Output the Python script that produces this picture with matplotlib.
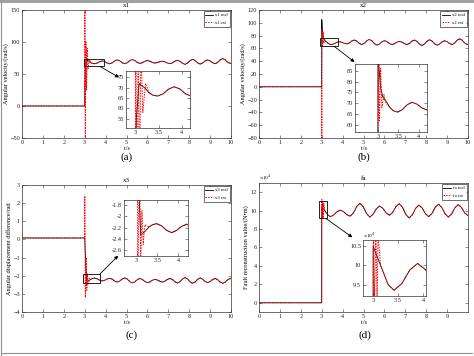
import numpy as np
import matplotlib
matplotlib.use('Agg')
import matplotlib.pyplot as plt
from matplotlib.patches import Rectangle

plt.rcParams['font.family'] = ['Liberation Serif', 'DejaVu Serif']
plt.rcParams['mathtext.fontset'] = 'stix'

# ---- data ----
# time grid of the steady oscillation of x1, x2, x3 (s)
t_ss = np.linspace(3.48, 10.32, 58)
# fa oscillates a bit slower, own grid
t_fa = np.linspace(3.42, 10.0, 43)

x1_ss = [66, 67.1, 69.4, 70.5, 69.4, 67.1, 66, 67.5, 70.5, 72, 70.5, 67.5, 66, 67.6, 70.9,
         72.5, 71, 68, 66.5, 67.6, 69.9, 71, 70, 68, 67, 67.8, 69.2, 70, 69, 67, 66, 67.4,
         70.1, 71.5, 69.9, 66.6, 65, 67, 71, 73, 71.1, 67.4, 65.5, 67.1, 70.4, 72, 70.5,
         67.5, 66, 68, 72, 74, 72.1, 68.4, 66.5, 67.9, 70.6, 72]
x2_ss = [66, 67.1, 69.4, 70.5, 69.6, 67.9, 67, 68.5, 71.5, 73, 71.2, 67.8, 66, 68, 72, 74,
         71.8, 67.3, 65, 66.8, 70.3, 72, 70.5, 67.5, 66, 67.3, 69.8, 71, 69.8, 67.3, 66,
         67.8, 71.3, 73, 70.9, 66.6, 64.5, 66.8, 71.3, 73.5, 71.4, 67.1, 65, 66.8, 70.3, 72,
         70.5, 67.5, 66, 68.3, 72.8, 75, 72.8, 68.3, 66, 67.3, 69.8, 71]
x3_ss = [-2.13, -2.17, -2.25, -2.29, -2.25, -2.18, -2.14, -2.19, -2.30, -2.35, -2.29, -2.18,
         -2.12, -2.19, -2.33, -2.4, -2.34, -2.21, -2.15, -2.21, -2.32, -2.38, -2.34, -2.25,
         -2.2, -2.24, -2.31, -2.35, -2.30, -2.2, -2.15, -2.21, -2.34, -2.4, -2.33, -2.18,
         -2.1, -2.18, -2.34, -2.42, -2.35, -2.2, -2.12, -2.19, -2.32, -2.38, -2.32, -2.21,
         -2.15, -2.22, -2.35, -2.42, -2.35, -2.22, -2.15, -2.2, -2.3, -2.35]
# fault value in units of 1e4 N*m
fa_ss = [9.35, 9.53, 9.88, 10.05, 9.89, 9.56, 9.4, 9.75, 10.45, 10.8, 10.43, 9.68, 9.3, 9.6,
         10.2, 10.5, 10.25, 9.75, 9.5, 9.81, 10.44, 10.75, 10.36, 9.59, 9.2, 9.55, 10.25,
         10.6, 10.29, 9.66, 9.35, 9.69, 10.36, 10.7, 10.35, 9.65, 9.3, 9.64, 10.31, 10.65,
         10.35, 9.75, 9.45]

# start-up part (before the steady grid)
x1_real_t = [0, 3.0, 3.02, 3.08, 3.2, 3.3, 3.38]
x1_real_v = [0, 0, 55, 72, 70, 67.5, 66.4]
x1_est_t = [0, 3.0, 3.008, 3.03, 3.06, 3.09, 3.12, 3.16, 3.22, 3.3, 3.38]
x1_est_v = [0, 0, 158, -55, 100, 25, 90, 58, 72, 67.5, 66.4]

x2_real_t = [0, 3.0, 3.004, 3.03, 3.07, 3.12, 3.2, 3.3, 3.38]
x2_real_v = [0, 0, 105, 86, 77, 73, 71, 68, 66.6]
x2_est_t = [0, 3.0, 3.005, 3.015, 3.04, 3.07, 3.1, 3.15, 3.2, 3.3, 3.38]
x2_est_v = [0, 0, -80, 88, 62, 86, 68, 74, 70, 68, 66.6]

x3_real_t = [0, 3.0, 3.06, 3.1, 3.2, 3.3, 3.38]
x3_real_v = [0.08, 0.08, -1.6, -2.33, -2.27, -2.19, -2.15]
x3_est_t = [0, 3.0, 3.005, 3.03, 3.07, 3.1, 3.13, 3.16, 3.2, 3.3, 3.38]
x3_est_v = [0.08, 0.08, 2.4, -3.2, -1.0, -2.8, -1.9, -2.5, -2.15, -2.19, -2.15]

fa_real_t = [0, 3.0, 3.001, 3.15, 3.3]
fa_real_v = [0, 0, 10.5, 10.0, 9.5]
fa_est_t = [0, 3.0, 3.005, 3.03, 3.055, 3.08, 3.1, 3.15, 3.3]
fa_est_v = [0, 0, 11.2, 9.1, 10.9, 9.2, 10.8, 10.0, 9.5]

panels = [
    dict(name='x1', tag='(a)', ylabel='Angular velocity/(rad/s)',
         rt=x1_real_t, rv=x1_real_v, et=x1_est_t, ev=x1_est_v, st=t_ss, ss=x1_ss,
         ylim=(-50, 150), yticks=[-50, 0, 50, 100, 150], xticks=range(11),
         box=(2.98, 62, 3.9, 74),
         ins_xlim=(2.8, 4.18), ins_ylim=(50.5, 78), ins_yticks=[55, 60, 65, 70, 75],
         arrow_from=(3.72, 62), arrow_to=(-0.11, 0.89)),
    dict(name='x2', tag='(b)', ylabel='Angular velocity/(rad/s)',
         rt=x2_real_t, rv=x2_real_v, et=x2_est_t, ev=x2_est_v, st=t_ss, ss=x2_ss,
         ylim=(-80, 120), yticks=range(-80, 121, 20), xticks=range(11),
         box=(2.9, 63, 3.78, 76),
         ins_xlim=(2.45, 4.2), ins_ylim=(57, 88), ins_yticks=[60, 65, 70, 75, 80, 85],
         arrow_from=(3.6, 63), arrow_to=(-0.01, 1.03)),
    dict(name='x3', tag='(c)', ylabel='Angular displacement difference/rad',
         rt=x3_real_t, rv=x3_real_v, et=x3_est_t, ev=x3_est_v, st=t_ss, ss=x3_ss,
         ylim=(-4, 3), yticks=range(-4, 4), xticks=range(11),
         box=(2.92, -2.42, 3.75, -1.92),
         ins_xlim=(2.7, 4.24), ins_ylim=(-2.7, -1.71),
         ins_yticks=[-2.6, -2.4, -2.2, -2, -1.8],
         arrow_from=(3.72, -1.92), arrow_to=(-0.09, 0.0)),
    dict(name='fa', tag='(d)', ylabel='Fault reconstruction value/(N\u2022m)',
         rt=fa_real_t, rv=fa_real_v, et=fa_est_t, ev=fa_est_v, st=t_fa, ss=fa_ss,
         ylim=(-1, 13), yticks=range(0, 13, 2), xticks=range(10),
         box=(2.89, 9.15, 3.25, 11.0),
         ins_xlim=(2.8, 4.06), ins_ylim=(9.2, 10.66), ins_yticks=[9.5, 10, 10.5],
         arrow_from=(3.2, 9.15), arrow_to=(-0.17, 1.05)),
]

# axes rectangles in figure fraction (main, inset)
main_pos = [[0.0464, 0.6124, 0.441, 0.3596], [0.5464, 0.6124, 0.441, 0.3596],
            [0.0464, 0.1236, 0.441, 0.3567], [0.5464, 0.1236, 0.441, 0.3624]]
inset_pos = [[0.266, 0.640, 0.135, 0.160], [0.7496, 0.630, 0.151, 0.190],
             [0.2616, 0.2818, 0.1357, 0.1564], [0.766, 0.1685, 0.133, 0.157]]
tag_pos = [(0.266, 0.559), (0.768, 0.559), (0.278, 0.059), (0.770, 0.059)]

fs = 4.5
spine_c = '#333333'


def style(ax, size):
    ax.tick_params(direction='in', length=2, width=0.4, labelsize=size, pad=1.5,
                   top=True, right=True, colors=spine_c, labelcolor='#222222')
    for s in ax.spines.values():
        s.set_linewidth(0.5)
        s.set_color(spine_c)


def draw_lines(ax, p):
    ax.plot(list(p['rt']) + list(p['st']), list(p['rv']) + p['ss'], color='black', lw=0.6)
    ax.plot(list(p['et']) + list(p['st']), list(p['ev']) + p['ss'], color='red', lw=0.7,
            ls=(0, (1.5, 1.2)))


fig = plt.figure(figsize=(4.74, 3.56), dpi=100)

for p, mp, ip, tp in zip(panels, main_pos, inset_pos, tag_pos):
    ax = fig.add_axes(mp)
    draw_lines(ax, p)
    ax.set_xlim(0, 10)
    ax.set_ylim(*p['ylim'])
    ax.set_xticks(list(p['xticks']))
    ax.set_yticks(list(p['yticks']))
    style(ax, fs)
    ax.set_title(p['name'], fontsize=fs + 0.5, pad=2)
    ax.set_xlabel('t/s', fontsize=fs, labelpad=1)
    ax.set_ylabel(p['ylabel'], fontsize=fs, labelpad=1)
    leg = ax.legend([p['name'] + ' real', p['name'] + ' est'], loc='upper right',
                    fontsize=3.3, frameon=True, fancybox=False, handlelength=1.7,
                    borderpad=0.4, labelspacing=0.7, handletextpad=0.4,
                    borderaxespad=0.3)
    leg.get_frame().set_edgecolor('black')
    leg.get_frame().set_linewidth(0.5)
    if p['name'] == 'fa':
        ax.text(0.0, 1.005, r'$\times10^4$', transform=ax.transAxes, fontsize=3.8,
                va='bottom', ha='left')

    # zoom box
    b = p['box']
    ax.add_patch(Rectangle((b[0], b[1]), b[2] - b[0], b[3] - b[1], fill=False,
                           ec='black', lw=0.6, zorder=5))

    # inset
    ins = fig.add_axes(ip)
    draw_lines(ins, p)
    ins.set_xlim(*p['ins_xlim'])
    ins.set_ylim(*p['ins_ylim'])
    ins.set_xticks([3, 3.5, 4])
    ins.set_yticks(p['ins_yticks'])
    ins.xaxis.set_major_formatter(plt.FormatStrFormatter('%g'))
    ins.yaxis.set_major_formatter(plt.FormatStrFormatter('%g'))
    style(ins, fs)
    if p['name'] == 'fa':
        ins.text(0.0, 1.005, r'$\times10^4$', transform=ins.transAxes, fontsize=3.8,
                 va='bottom', ha='left')

    ax.annotate('', xy=p['arrow_to'], xycoords=ins.transAxes,
                xytext=p['arrow_from'], textcoords='data',
                arrowprops=dict(arrowstyle='-|>', color='black', lw=0.6,
                                mutation_scale=5, shrinkA=0, shrinkB=0))

    fig.text(tp[0], tp[1], p['tag'], fontsize=8, ha='center', va='center')

# page frame around the figure
fig.patches.append(Rectangle((0, 1 - 3 / 356), 1, 3 / 356, transform=fig.transFigure,
                             color='#a0a0a0', lw=0))
fig.lines.append(plt.Line2D([0.003, 0.003], [0, 1], transform=fig.transFigure,
                            color='#909090', lw=0.8))
fig.lines.append(plt.Line2D([0.003, 0.995], [0.009, 0.009], transform=fig.transFigure,
                            color='#909090', lw=0.8))

fig.savefig('out.png', dpi=100)
